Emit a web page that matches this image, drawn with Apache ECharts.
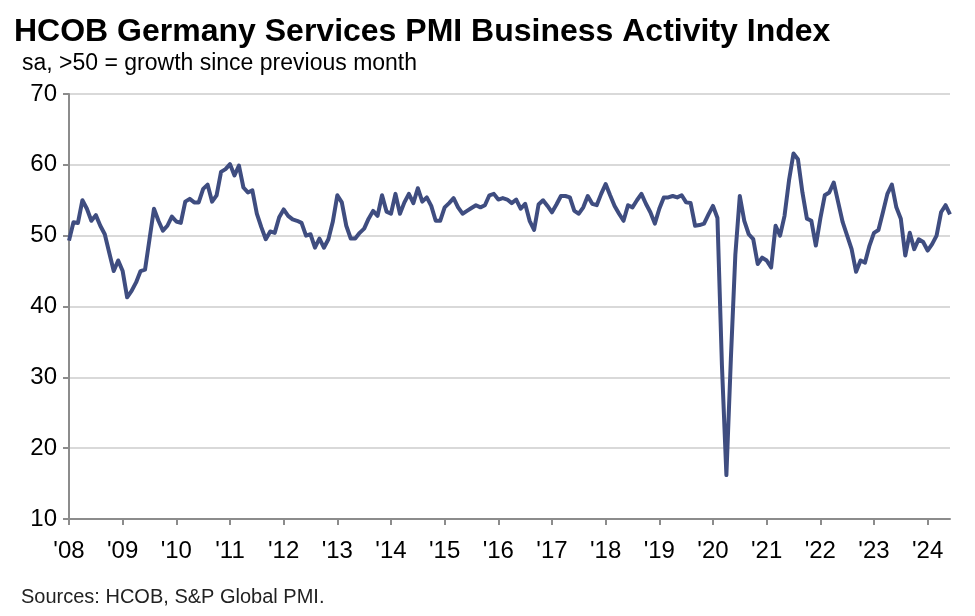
<!DOCTYPE html>
<html>
<head>
<meta charset="utf-8">
<script src="https://cdn.jsdelivr.net/npm/echarts@6/dist/echarts.min.js"></script>
<style>
html,body{margin:0;padding:0;background:#fff;}
#chart{width:975px;height:616px;}
</style>
</head>
<body>
<div id="chart"></div>
<script>
const titleText = "HCOB Germany Services PMI Business Activity Index";
const subtitleText = "sa, >50 = growth since previous month";
const sourceText = "Sources: HCOB, S&P Global PMI.";

const yearTicks = ["'08","'09","'10","'11","'12","'13","'14","'15","'16","'17","'18","'19","'20","'21","'22","'23","'24"];
const monthNames = ["Jan","Feb","Mar","Apr","May","Jun","Jul","Aug","Sep","Oct","Nov","Dec"];

const pmi2008 = [49.3, 51.9, 51.8, 55.0, 53.8, 52.1, 52.9, 51.4, 50.2, 47.6, 45.0, 46.5];
const pmi2009 = [45.0, 41.3, 42.2, 43.4, 45.0, 45.2, 49.5, 53.8, 52.1, 50.7, 51.4, 52.7];
const pmi2010 = [52.0, 51.8, 54.8, 55.2, 54.7, 54.7, 56.6, 57.2, 54.8, 55.7, 59.0, 59.4];
const pmi2011 = [60.1, 58.5, 59.9, 56.8, 56.1, 56.4, 53.1, 51.2, 49.5, 50.6, 50.4, 52.6];
const pmi2012 = [53.7, 52.8, 52.3, 52.1, 51.8, 50.0, 50.2, 48.3, 49.6, 48.3, 49.5, 52.0];
const pmi2013 = [55.7, 54.7, 51.4, 49.6, 49.6, 50.4, 51.0, 52.4, 53.5, 52.8, 55.7, 53.4];
const pmi2014 = [53.1, 55.9, 53.1, 54.7, 55.9, 54.6, 56.7, 54.8, 55.4, 54.2, 52.1, 52.1];
const pmi2015 = [54.0, 54.6, 55.3, 54.0, 53.1, 53.5, 53.9, 54.3, 54.0, 54.3, 55.7, 55.9];
const pmi2016 = [55.1, 55.3, 55.1, 54.6, 55.1, 53.8, 54.5, 52.1, 50.8, 54.4, 55.0, 54.2];
const pmi2017 = [53.3, 54.4, 55.6, 55.6, 55.4, 53.5, 53.1, 54.0, 55.6, 54.5, 54.3, 55.9];
const pmi2018 = [57.3, 55.7, 54.2, 53.1, 52.1, 54.3, 54.0, 55.0, 55.9, 54.5, 53.3, 51.7];
const pmi2019 = [53.8, 55.4, 55.4, 55.6, 55.4, 55.7, 54.7, 54.6, 51.4, 51.5, 51.7, 53.0];
const pmi2020 = [54.2, 52.5, 31.7, 16.2, 32.6, 47.3, 55.6, 52.1, 50.2, 49.5, 46.0, 46.9];
const pmi2021 = [46.5, 45.5, 51.4, 50.0, 52.8, 57.8, 61.6, 60.8, 56.1, 52.4, 52.1, 48.6];
const pmi2022 = [52.4, 55.7, 56.1, 57.5, 54.7, 51.9, 50.0, 48.1, 44.9, 46.5, 46.2, 48.6];
const pmi2023 = [50.4, 50.8, 53.3, 55.9, 57.2, 54.0, 52.4, 47.2, 50.4, 48.1, 49.5, 49.1];
const pmi2024 = [47.9, 48.8, 50.0, 53.3, 54.3, 53.0];

const yearlySeries = [pmi2008, pmi2009, pmi2010, pmi2011, pmi2012, pmi2013, pmi2014, pmi2015,
  pmi2016, pmi2017, pmi2018, pmi2019, pmi2020, pmi2021, pmi2022, pmi2023, pmi2024];

const categories = [];
const values = [];
const tickLabelByIndex = {};
yearlySeries.forEach(function (arr, yi) {
  arr.forEach(function (v, mi) {
    if (mi === 0) tickLabelByIndex[categories.length] = yearTicks[yi];
    categories.push(monthNames[mi] + " " + yearTicks[yi]);
    values.push(v);
  });
});

const chart = echarts.init(document.getElementById('chart'), null, {renderer: 'canvas'});
const fontFam = "'Liberation Sans', Arial, sans-serif";
chart.setOption({
  animation: false,
  backgroundColor: '#ffffff',
  title: [{
    text: titleText,
    left: 9, top: 11,
    textStyle: {fontFamily: fontFam, fontSize: 32, fontWeight: 'bold', color: '#000'}
  }, {
    text: subtitleText,
    left: 17, top: 47,
    textStyle: {fontFamily: fontFam, fontSize: 23, fontWeight: 'normal', color: '#000'}
  }],
  graphic: [{
    type: 'text', left: 21, top: 587,
    style: {text: sourceText, fontFamily: fontFam, fontSize: 20, fill: '#222'}
  }],
  grid: {left: 69, right: 25, top: 94, bottom: 97, containLabel: false},
  xAxis: {
    type: 'category',
    data: categories,
    boundaryGap: false,
    axisLine: {lineStyle: {color: '#8c8c8c', width: 2}},
    axisTick: {
      show: true, length: 6, inside: false,
      interval: function (i) { return tickLabelByIndex[i] !== undefined; },
      lineStyle: {color: '#8c8c8c', width: 2}
    },
    axisLabel: {
      interval: function (i) { return tickLabelByIndex[i] !== undefined; },
      formatter: function (v, i) { return tickLabelByIndex[i] || ''; },
      fontFamily: fontFam, fontSize: 24, color: '#000', margin: 20
    },
    splitLine: {show: false}
  },
  yAxis: {
    type: 'value', min: 10, max: 70, interval: 10,
    axisLine: {show: true, lineStyle: {color: '#8c8c8c', width: 2}},
    axisTick: {show: true, length: 6, lineStyle: {color: '#8c8c8c', width: 2}},
    axisLabel: {fontFamily: fontFam, fontSize: 24, color: '#000', margin: 12},
    splitLine: {show: true, lineStyle: {color: '#d9d9d9', width: 2}}
  },
  series: [{
    type: 'line',
    data: values,
    showSymbol: false,
    symbol: 'none',
    lineStyle: {color: '#3f4d80', width: 4, join: 'round'},
    itemStyle: {color: '#3f4d80'}
  }]
});
</script>
</body>
</html>
